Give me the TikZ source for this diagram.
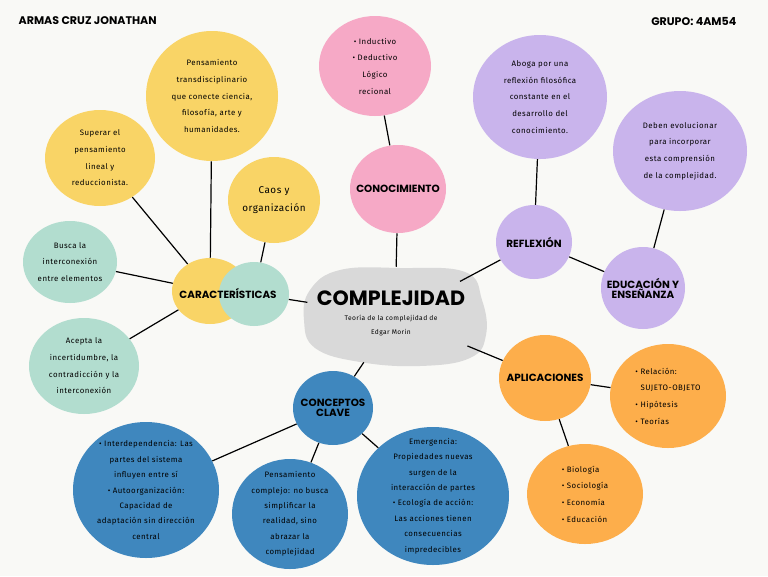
\documentclass[tikz,border=0pt]{standalone}
\usepackage{fontspec}
\setmainfont{Poppins}
\newfontfamily\smallf[LetterSpace=6]{Fira Sans}
\usetikzlibrary{shapes.geometric}
\definecolor{bg}{HTML}{F9F9F6}
\definecolor{cy}{HTML}{F9D466}
\definecolor{cg}{HTML}{B2DDCF}
\definecolor{cp}{HTML}{F6A9C6}
\definecolor{cv}{HTML}{C9B4EC}
\definecolor{co}{HTML}{FDAE4B}
\definecolor{cb}{HTML}{3F87BE}
\definecolor{cgr}{HTML}{D9D9D9}
\tikzset{
 bub/.style={ellipse,inner sep=0pt,align=center},
 sz/.style 2 args={minimum width=#1*0.75pt,minimum height=#2*0.75pt},
 sm/.style={font=\smallf\fontsize{5.9}{12.5}\selectfont,align=center},
 smb/.style={font=\smallf\fontsize{5.9}{11.6}\selectfont,align=center},
 hd/.style={font=\bfseries\fontsize{7.8}{7.5}\selectfont,align=center},
 link/.style={draw=black,line width=0.9pt},
}
\newcommand{\bl}{\textbullet\ }
% \bubb{name}{x,y}{fill}{w}{h}{textstyle}{text}
\newcommand{\bubb}[7]{%
 \node[bub,fill=#3,sz={#4}{#5}] (#1) at (#2) {};
 \node[#6] (#1t) at (#2) {#7};}
\begin{document}
\begin{tikzpicture}[x=0.75pt,y=-0.75pt]
\fill[bg] (0,0) rectangle (768,576);
\useasboundingbox (0,0) rectangle (768,576);
\node[anchor=west,font=\bfseries\fontsize{8.3}{10}\selectfont] (name) at (14,21) {ARMAS CRUZ JONATHAN};
\node[anchor=east,font=\bfseries\fontsize{8.3}{10}\selectfont] (grp) at (741,21) {GRUPO: 4AM54};
% blob
\fill[cgr] plot[smooth cycle,tension=0.7] coordinates {(310,290) (340,270) (400,268) (465,272) (482,300) (486,335) (470,358) (420,366) (360,362) (315,348) (304,320)};
\node[bub,sz={182}{98}] (blob) at (395,316) {};
\node[font=\bfseries\fontsize{15.5}{16}\selectfont] (title) at (391,298) {COMPLEJIDAD};
\node[align=center,font=\smallf\fontsize{5}{10.5}\selectfont] (sub) at (391,326) {Teoría de la complejidad de\\Edgar Morin};
% nodes
\bubb{pens}{212,96}{cy}{132}{130}{sm}{Pensamiento\\transdisciplinario\\que conecte ciencia,\\filosofía, arte y\\humanidades.}
\bubb{sup}{100,158}{cy}{110}{96}{sm}{Superar el\\pensamiento\\lineal y\\reduccionista.}
\bubb{caos}{274,200}{cy}{92}{86}{font=\smallf\fontsize{7.4}{13.5}\selectfont,align=center}{Caos y\\organización}
\bubb{busca}{70,262}{cg}{94}{82}{sm}{Busca la\\interconexión\\entre elementos}
\bubb{acep}{84,366}{cg}{110}{96}{sm}{Acepta la\\incertidumbre, la\\contradicción y la\\interconexión}
\node[bub,fill=cy,sz={76}{66}] (cary) at (210,291) {};
\node[bub,fill=cg,sz={70}{64}] (carg) at (254,294) {};
\node[hd] (car) at (228,293) {CARACTERÍSTICAS};
\bubb{ind}{375,66}{cp}{112}{100}{sm}{\bl Inductivo\\\bl Deductivo\\Lógico\\recional}
\bubb{cono}{398,189}{cp}{96}{88}{hd}{CONOCIMIENTO}
\bubb{abo}{540,97}{cv}{134}{124}{sm}{Aboga por una\\reflexión filosófica\\constante en el\\desarrollo del\\conocimiento.}
\bubb{refl}{534,242}{cv}{76}{74}{hd}{REFLEXIÓN}
\bubb{deb}{680,151}{cv}{134}{120}{sm}{Deben evolucionar\\para incorporar\\esta comprensión\\de la complejidad.}
\bubb{edu}{643,288}{cv}{84}{82}{hd}{EDUCACIÓN Y\\ENSEÑANZA}
\bubb{apl}{545,378}{co}{92}{86}{hd}{APLICACIONES}
\bubb{rel}{668,396}{co}{116}{104}{sm,align=left}{\bl Relación:\\\phantom{\bl}SUJETO-OBJETO\\\bl Hipótesis\\\bl Teorías}
\bubb{bio}{585,494}{co}{116}{100}{sm,align=left}{\bl Biología\\\bl Sociología\\\bl Economía\\\bl Educación}
\bubb{con}{333,408}{cb}{80}{74}{hd}{CONCEPTOS\\CLAVE}
\bubb{inter}{146,490}{cb}{146}{136}{smb}{\bl Interdependencia: Las\\partes del sistema\\influyen entre sí\\\bl Autoorganización:\\Capacidad de\\adaptación sin dirección\\central}
\bubb{pc}{290,514}{cb}{116}{110}{smb}{Pensamiento\\complejo: no busca\\simplificar la\\realidad, sino\\abrazar la\\complejidad}
\bubb{eme}{433,496}{cb}{152}{138}{smb}{Emergencia:\\Propiedades nuevas\\surgen de la\\interacción de partes\\\bl Ecología de acción:\\Las acciones tienen\\consecuencias\\impredecibles}
% links
\draw[link] (pens) -- (cary);
\draw[link] (sup) -- (cary);
\draw[link] (caos) -- (carg);
\draw[link] (busca) -- (cary);
\draw[link] (acep) -- (cary);
\draw[link] (carg) -- (blob);
\draw[link] (ind) -- (cono);
\draw[link] (cono) -- (blob);
\draw[link] (blob) -- (refl);
\draw[link] (refl) -- (abo);
\draw[link] (refl) -- (edu);
\draw[link] (deb) -- (edu);
\draw[link] (blob) -- (apl);
\draw[link] (apl) -- (rel);
\draw[link] (apl) -- (bio);
\draw[link] (blob) -- (con);
\draw[link] (con) -- (inter);
\draw[link] (con) -- (pc);
\draw[link] (con) -- (eme);
\end{tikzpicture}
\end{document}
